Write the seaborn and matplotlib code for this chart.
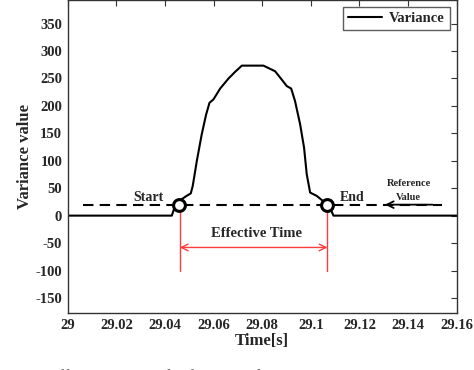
import numpy as np
import pandas as pd
import seaborn as sns
import matplotlib.pyplot as plt

# variance curve
time_s = [29.0, 29.0428, 29.0437, 29.0458, 29.0469, 29.0489, 29.0506, 29.0514, 29.0531,
          29.0551, 29.0569, 29.0583, 29.0599, 29.0627, 29.0661, 29.0688, 29.0716, 29.0805,
          29.0825, 29.0853, 29.0880, 29.0901, 29.0919, 29.0935, 29.0956, 29.0972, 29.0983,
          29.0997, 29.1024, 29.1049, 29.1065, 29.1083, 29.1093, 29.16]
variance = [0, 0, 12, 20, 30, 36, 40.5, 54, 100,
            148, 184, 205.6, 211.6, 231.6, 249.7, 261.8, 273.3, 273.3,
            269, 263, 248, 236, 231.6, 208.6, 166, 124, 75.6,
            42, 36, 27, 20, 10, 0, 0]

ref_value = 20
ref_range = [29.0062, 29.1538]
t_start = 29.0461
t_end = 29.1068
effective_y = -58
xticks = [29, 29.02, 29.04, 29.06, 29.08, 29.1, 29.12, 29.14, 29.16]
xtick_labels = ['29', '29.02', '29.04', '29.06', '29.08', '29.1', '29.12', '29.14', '29.16']
yticks = [-150, -100, -50, 0, 50, 100, 150, 200, 250, 300, 350]

df = pd.DataFrame({'Time': time_s, 'Variance': variance})

sns.set_style('white')
plt.rcParams['font.family'] = ['Liberation Serif', 'DejaVu Serif']
plt.rcParams['font.weight'] = 'bold'
plt.rcParams['axes.unicode_minus'] = False

fig = plt.figure(figsize=(4.74, 3.70), dpi=100)
ax = fig.add_axes([0.143, 0.1532, 0.8205, 0.8455])

sns.lineplot(data=df, x='Time', y='Variance', color='black', linewidth=1.5,
             label='Variance', ax=ax)

# reference line
ax.plot(ref_range, [ref_value, ref_value], color='black', linewidth=1.5,
        dashes=(5, 3))

# start / end markers
ax.plot([29.0458, 29.1065], [ref_value, ref_value], linestyle='none', marker='o',
        markersize=8.5, markerfacecolor='white', markeredgecolor='black',
        markeredgewidth=2.2, zorder=5)

# effective time
red = '#ff3c3c'
ax.plot([t_start, t_start], [ref_value - 3, -100], color=red, linewidth=1)
ax.plot([t_end, t_end], [ref_value - 3, -100], color=red, linewidth=1)
ax.annotate('', xy=(t_start, effective_y), xytext=(t_end, effective_y),
            arrowprops=dict(arrowstyle='<->', color=red, lw=1, mutation_scale=12,
                            shrinkA=0, shrinkB=0))
ax.text(29.0777, -32, 'Effective Time', ha='center', va='center', fontsize=10.5,
        fontweight='bold')

ax.text(29.0333, 33, 'Start', ha='center', va='center', fontsize=10, fontweight='bold')
ax.text(29.117, 33, 'End', ha='center', va='center', fontsize=10, fontweight='bold')
ax.text(29.1402, 58, 'Reference', ha='center', va='center', fontsize=7.5, fontweight='bold')
ax.text(29.1402, 33, 'Value', ha='center', va='center', fontsize=7.5, fontweight='bold')
ax.annotate('', xy=(29.1305, ref_value), xytext=(29.1500, ref_value),
            arrowprops=dict(arrowstyle='->', color='black', lw=1.3, mutation_scale=12,
                            shrinkA=0, shrinkB=0))

ax.set_xlim(29, 29.16)
ax.set_ylim(-178, 392)
ax.set_xticks(xticks)
ax.set_xticklabels(xtick_labels)
ax.set_yticks(yticks)
ax.tick_params(direction='in', length=4, width=0.8, top=True, right=True,
               labelsize=10.5, pad=4, color='#333333')
for lab in ax.get_xticklabels() + ax.get_yticklabels():
    lab.set_fontweight('bold')
for sp in ax.spines.values():
    sp.set_color('#333333')
    sp.set_linewidth(1.0)

ax.set_xlabel('Time[s]', fontsize=12, fontweight='bold', labelpad=1)
ax.set_ylabel('Variance value', fontsize=12, fontweight='bold', labelpad=2)

leg = ax.legend(loc='upper right', fontsize=10.5, frameon=True, fancybox=False,
                borderaxespad=0.45, handlelength=2.3, borderpad=0.35,
                handletextpad=0.5)
leg.get_frame().set_edgecolor('#333333')
leg.get_frame().set_linewidth(1.0)
for t in leg.get_texts():
    t.set_fontweight('bold')

# caption of the source figure, mostly cut off at the bottom edge
fig.text(0.003, -0.03, 'Fig. 4. Effective time and reference value', fontsize=12,
         va='baseline', color='#555555', fontweight='normal')

fig.savefig('out.png', dpi=100)
